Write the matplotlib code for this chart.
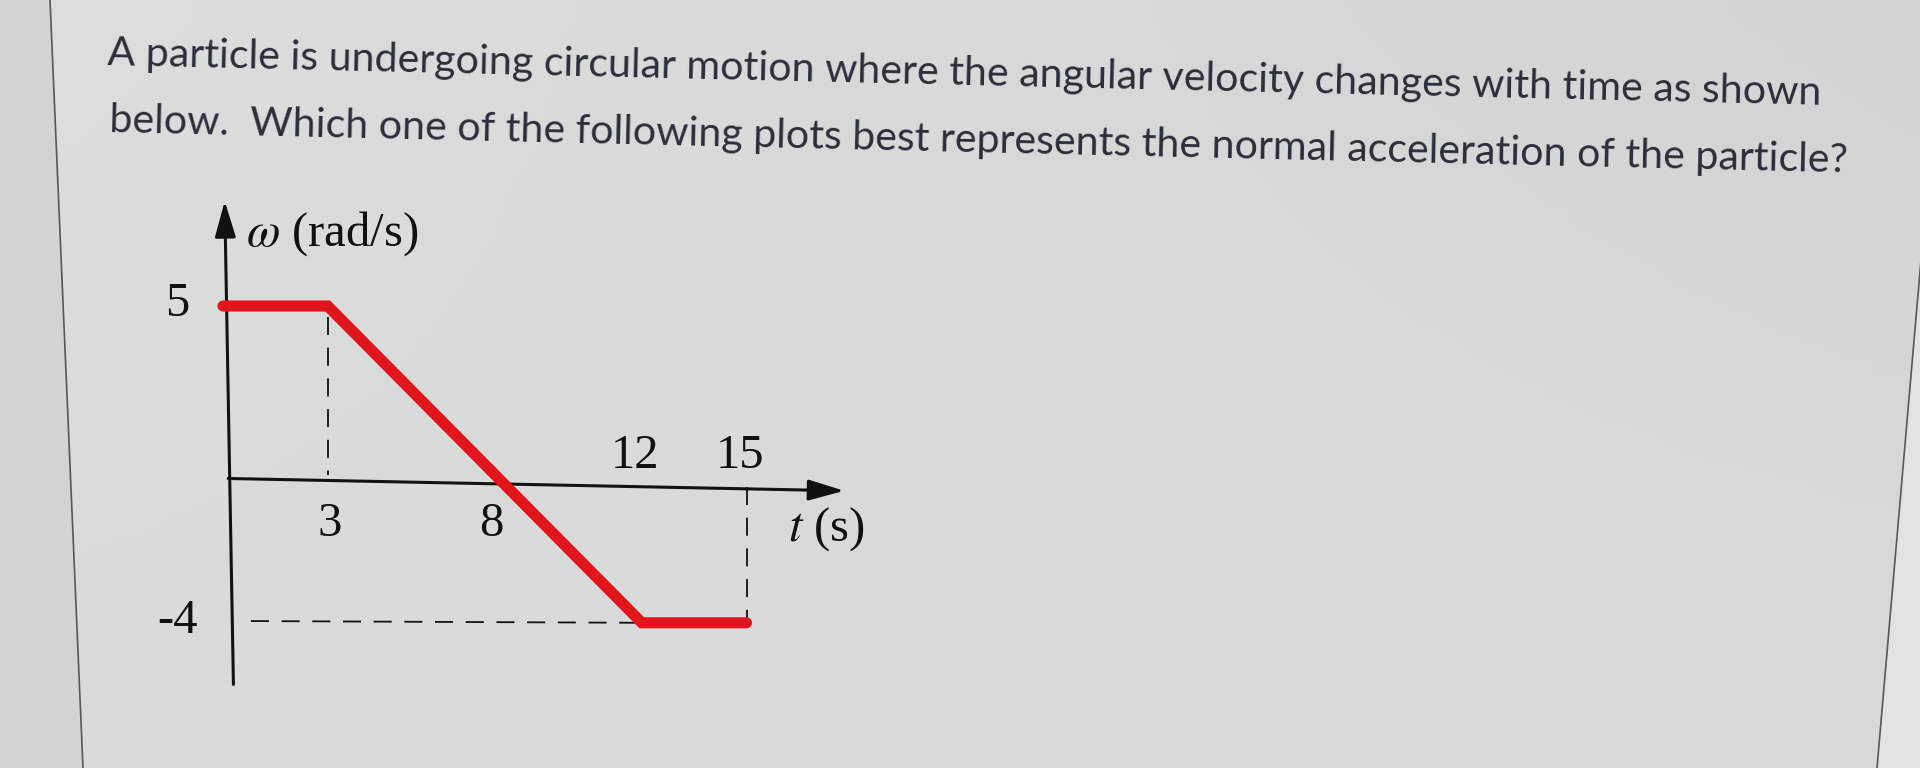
import numpy as np
import matplotlib.pyplot as plt

plt.rcParams['mathtext.fontset'] = 'stix'

# question text
line1 = "A particle is undergoing circular motion where the angular velocity changes with time as shown"
line2 = "below.  Which one of the following plots best represents the normal acceleration of the particle?"

# angular velocity profile
t_pts = [0, 3, 8, 12, 15]
omega_pts = [5, 5, 0, -4, -4]
t_ticks_below = [3, 8]
t_ticks_above = [12, 15]
omega_ticks = [5, -4]

W, H = 1920, 768
fig = plt.figure(figsize=(W / 100, H / 100), dpi=100)

# photographed screen background
bg = fig.add_axes([0, 0, 1, 1])
gx, gy = np.meshgrid(np.linspace(0, 1, 200), np.linspace(0, 1, 80))
shade = 223 - 10 * gx * (1 - gy) - 4 * gy
img = np.dstack([shade - 2, shade, shade - 1]) / 255.0
bg.imshow(np.clip(img, 0, 1), extent=[0, W, H, 0], aspect='auto')
bg.fill([0, 50, 83, 0], [0, 0, H, H], color='#d2d5d4')
bg.fill([1918, W, W, 1877], [294, 294, H, H], color='#e2e4e3')
bg.plot([50, 83], [0, H], color='#55595c', lw=1.2)
bg.plot([1921, 1877], [260, H], color='#55595c', lw=1.2)
bg.set_xlim(0, W)
bg.set_ylim(H, 0)
bg.axis('off')

txt_kw = dict(family='Lato', fontsize=29.6, color='#2b2f3a', ha='left', va='baseline',
              rotation=-1.33, rotation_mode='anchor')
fig.text(107 / W, 1 - 65 / H, line1, **txt_kw)
fig.text(109 / W, 1 - 132 / H, line2, **txt_kw)

# plot area: t -> 34.9 px/unit from x=223, omega -> 35.2 px/unit from y=482
ax = fig.add_axes([170.6 / W, 1 - 693.2 / H, 698.1 / W, 510.4 / H])
ax.set_xlim(-1.5, 18.5)
ax.set_ylim(-6.0, 8.5)
ax.axis('off')
ax.patch.set_alpha(0)

ink = '#111111'
arrow = dict(arrowstyle='-|>,head_length=1.1,head_width=0.32', mutation_scale=20,
             lw=2.2, color=ink, shrinkA=0, shrinkB=0)
ax.annotate('', xy=(0.05, 7.98), xytext=(0.3, -5.75), arrowprops=arrow)
ax.annotate('', xy=(17.8, -0.25), xytext=(0.15, 0.1), arrowprops=arrow)

dash = dict(color=ink, lw=1.3, dashes=(10, 7))
ax.plot([3, 3], [4.7, 0.2], **dash)
ax.plot([15, 15], [-0.15, -3.9], **dash)
ax.plot([0.8, 12], [-3.95, -4], **dash)

ax.plot(t_pts, omega_pts, color='#e3151c', lw=8, solid_capstyle='round',
        solid_joinstyle='miter', zorder=5)

serif = dict(family='Liberation Serif', fontsize=35, color=ink, ha='center', va='center')
for v in omega_ticks:
    ax.text(-1.3, v + 0.05, str(v), **serif)
for v in t_ticks_below:
    # label sits just left of the point when the curve crosses there
    ax.text(v + (0.05 if v == 3 else -0.3), -1.2, str(v), **serif)
for v in t_ticks_above:
    ax.text(v - 0.2, 0.75, str(v), **serif)
ax.text(0.65, 7.05, r'$\omega$ (rad/s)', family='Liberation Serif', fontsize=35,
        color=ink, ha='left', va='center')
ax.text(16.2, -1.35, r'$t$ (s)', family='Liberation Serif', fontsize=35,
        color=ink, ha='left', va='center')

fig.savefig('out.png', dpi=100)
